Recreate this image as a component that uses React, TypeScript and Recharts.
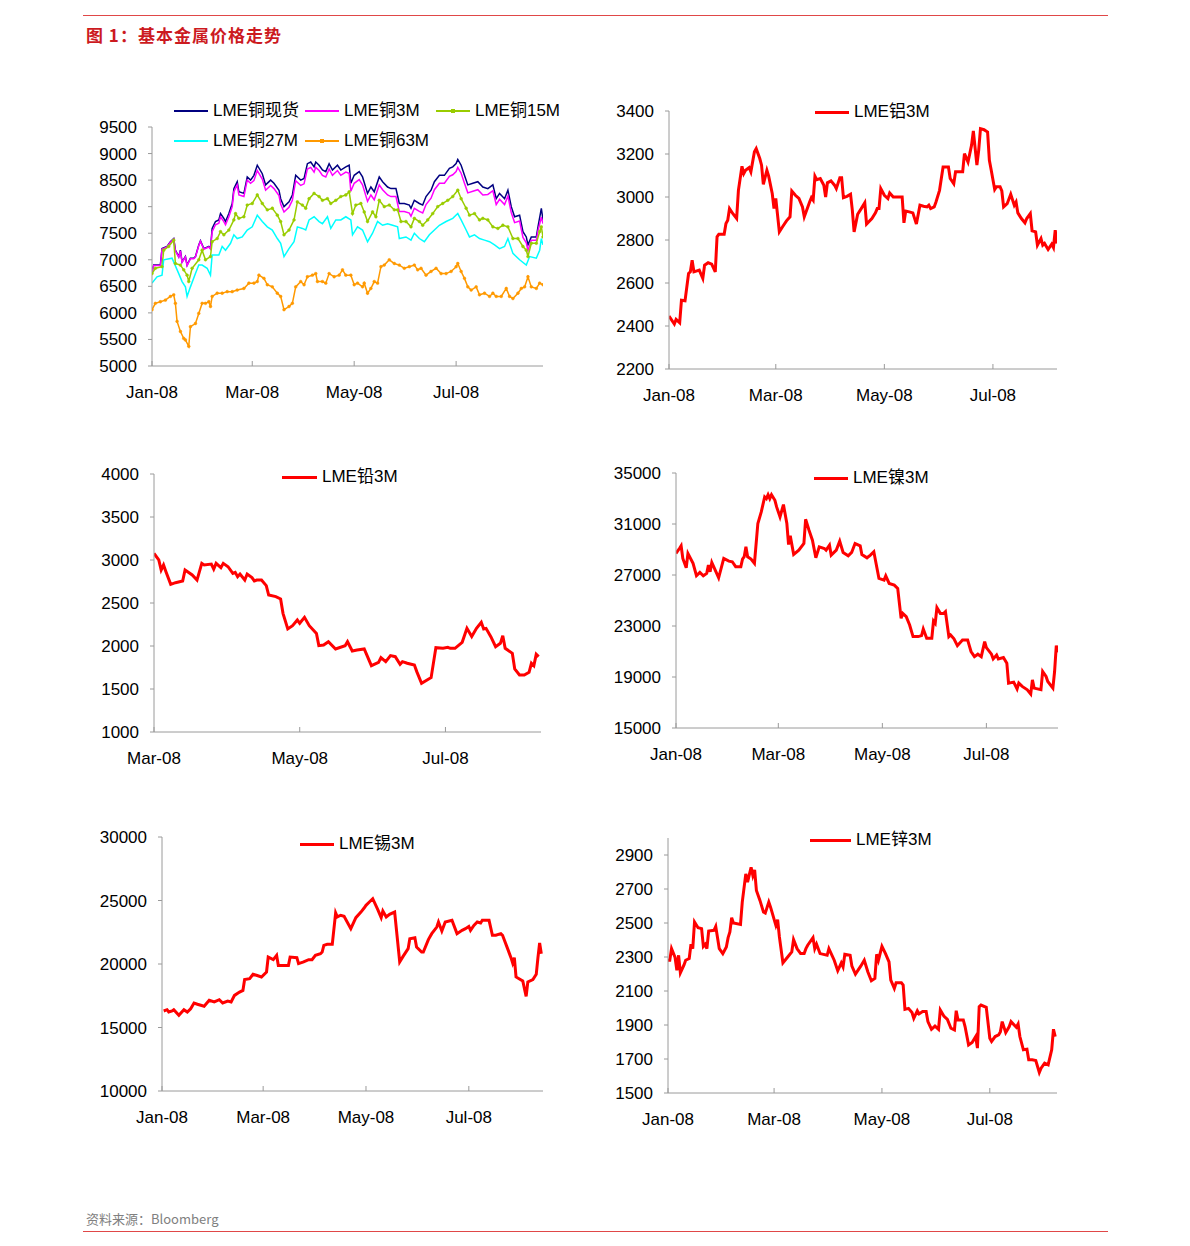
import React from 'react';
import { LineChart, Line, XAxis, YAxis } from 'recharts';

const FONT = '"Liberation Sans", Arial, "Noto Sans CJK SC", sans-serif';
const AXIS = '#9a9a9a';
const RED = '#FF0000';

// month ticks as day-of-year (2008)
const MONTH_DAYS = [0, 60, 121, 182];
const MONTH_LABELS = ['Jan-08', 'Mar-08', 'May-08', 'Jul-08'];

// ---- copper (LME) ----
const cuDays = [
  0, 1, 3, 5, 6, 9, 11, 13, 14, 16, 17, 18, 20, 21, 23, 25, 26, 28, 29, 31,
  34, 35, 36, 38, 40, 41, 43, 44, 46, 48, 49, 51, 52, 55, 57, 59, 61, 63, 66, 68,
  71, 73, 76, 77, 79, 82, 84, 86, 89, 91, 93, 95, 97, 98, 100, 102, 104, 106, 108, 111,
  113, 116, 118, 119, 121, 124, 126, 129, 131, 133, 136, 138, 141, 143, 146, 148, 151, 154, 155, 157,
  160, 162, 164, 167, 169, 172, 175, 178, 180, 182, 183, 185, 187, 189, 192, 195, 198, 201, 204, 206,
  208, 211, 213, 215, 217, 220, 222, 224, 225, 227, 230, 231, 233, 234,
];
const cuSpot = [
  6780, 6900, 6900, 6900, 7210, 7250, 7340, 7400, 7180, 7060, 7180, 6960, 7060, 6900, 7030, 7030, 7060, 7280, 7360, 7210,
  7250, 7210, 7590, 7720, 7750, 7870, 7780, 7720, 7870, 8060, 8340, 8470, 8280, 8250, 8560, 8500, 8590, 8780, 8620, 8410,
  8500, 8440, 8310, 8150, 8000, 8090, 8220, 8590, 8500, 8530, 8810, 8840, 8750, 8840, 8780, 8690, 8660, 8810, 8690, 8780,
  8690, 8750, 8780, 8440, 8590, 8660, 8560, 8250, 8370, 8280, 8560, 8470, 8370, 8340, 8340, 8060, 8060, 8030, 7970, 8120,
  8060, 8030, 8190, 8310, 8470, 8590, 8590, 8720, 8750, 8810, 8890, 8780, 8590, 8410, 8440, 8470, 8370, 8340, 8410, 8150,
  8250, 8150, 8310, 8000, 7810, 7840, 7530, 7430, 7280, 7430, 7430, 7620, 7970, 7750,
];
const cu3M = [
  6770, 6890, 6890, 6890, 7200, 7240, 7330, 7390, 7170, 7050, 7170, 6950, 7050, 6890, 7020, 7020, 7050, 7270, 7350, 7200,
  7240, 7200, 7530, 7660, 7690, 7810, 7720, 7660, 7810, 8000, 8280, 8410, 8220, 8190, 8500, 8440, 8490, 8680, 8520, 8310,
  8400, 8340, 8210, 8050, 7900, 7990, 8120, 8490, 8400, 8430, 8710, 8740, 8650, 8740, 8680, 8590, 8560, 8710, 8590, 8680,
  8590, 8650, 8630, 8290, 8440, 8510, 8410, 8100, 8220, 8130, 8410, 8320, 8220, 8190, 8190, 7910, 7910, 7880, 7820, 7970,
  7910, 7880, 8040, 8160, 8320, 8440, 8440, 8570, 8600, 8660, 8740, 8630, 8440, 8260, 8290, 8320, 8220, 8230, 8300, 8040,
  8140, 8040, 8200, 7890, 7700, 7730, 7420, 7320, 7170, 7370, 7370, 7550, 7800, 7680,
];
const cu15MDays = [
  0, 2, 6, 7, 10, 13, 14, 17, 19, 21, 22, 24, 28, 30, 32, 35, 36, 39, 41, 43,
  46, 49, 50, 52, 55, 57, 60, 63, 66, 69, 72, 75, 77, 79, 82, 85, 87, 90, 92, 94,
  97, 100, 102, 105, 107, 110, 113, 116, 118, 120, 122, 125, 127, 129, 132, 134, 136, 139, 142, 145,
  147, 149, 152, 155, 157, 160, 162, 165, 168, 171, 174, 177, 180, 183, 185, 188, 190, 193, 196, 198,
  201, 204, 207, 210, 213, 216, 219, 222, 224, 225, 227, 230, 232, 233, 234,
];
const cu15M = [
  6740, 6840, 6870, 7180, 7250, 7370, 6930, 6900, 6810, 6710, 6590, 6840, 7000, 7180, 7000, 7060, 7340, 7400, 7530, 7470,
  7560, 7750, 7870, 7780, 7810, 8030, 8060, 8220, 8060, 7940, 7970, 7840, 7720, 7470, 7560, 7750, 8090, 8030, 7970, 8150,
  8250, 8190, 8120, 8150, 8060, 8120, 8190, 8220, 8280, 7870, 8030, 8060, 7900, 7720, 7900, 7810, 8120, 8000, 8030, 7940,
  7940, 7720, 7720, 7620, 7780, 7720, 7650, 7750, 7870, 8000, 8060, 8120, 8190, 8310, 8150, 7970, 7840, 7870, 7750, 7780,
  7750, 7620, 7590, 7650, 7620, 7400, 7400, 7250, 7180, 7060, 7310, 7310, 7530, 7620, 7430,
];
const cu27MDays = [
  0, 3, 6, 7, 12, 16, 18, 20, 21, 23, 26, 28, 30, 33, 35, 36, 40, 42, 44, 47,
  49, 51, 54, 57, 60, 63, 66, 69, 72, 75, 77, 79, 82, 85, 87, 90, 92, 94, 97, 100,
  102, 105, 107, 110, 113, 116, 119, 120, 123, 126, 129, 132, 135, 138, 141, 144, 147, 148, 152, 155,
  157, 160, 163, 166, 169, 172, 176, 180, 183, 185, 188, 190, 193, 196, 199, 202, 205, 208, 211, 213,
  216, 220, 224, 226, 230, 232, 233, 234,
];
const cu27M = [
  6560, 6680, 6710, 7000, 7030, 6740, 6590, 6490, 6310, 6490, 6740, 6900, 6900, 6840, 6710, 7090, 7090, 7250, 7180, 7310,
  7470, 7400, 7430, 7560, 7620, 7840, 7720, 7620, 7560, 7400, 7310, 7060, 7210, 7340, 7620, 7590, 7560, 7750, 7810, 7720,
  7680, 7810, 7590, 7750, 7750, 7810, 7750, 7470, 7620, 7560, 7340, 7500, 7720, 7650, 7680, 7650, 7620, 7400, 7430, 7370,
  7500, 7400, 7340, 7470, 7560, 7650, 7720, 7780, 7870, 7750, 7560, 7430, 7470, 7400, 7370, 7340, 7280, 7210, 7250, 7400,
  7120, 7000, 6900, 7060, 7030, 7180, 7400, 7280,
];
const cu63MDays = [
  0, 2, 5, 8, 11, 13, 14, 15, 17, 19, 20, 22, 23, 26, 28, 30, 32, 34, 35, 36,
  39, 42, 45, 48, 51, 55, 58, 61, 63, 64, 67, 69, 72, 75, 77, 79, 82, 84, 86, 89,
  91, 93, 96, 98, 99, 102, 104, 106, 109, 112, 114, 116, 119, 121, 123, 126, 127, 129, 131, 133,
  135, 137, 139, 142, 145, 148, 151, 154, 157, 159, 161, 164, 167, 170, 173, 176, 179, 182, 183, 185,
  187, 189, 191, 194, 196, 199, 202, 204, 206, 209, 212, 214, 216, 219, 221, 223, 225, 227, 230, 232,
  234,
];
const cu63M = [
  6060, 6180, 6210, 6240, 6310, 6340, 6180, 5840, 5650, 5520, 5490, 5370, 5740, 5800, 5990, 6180, 6180, 6210, 6120, 6310,
  6370, 6370, 6400, 6400, 6430, 6460, 6560, 6560, 6590, 6710, 6650, 6530, 6490, 6370, 6310, 6060, 6120, 6180, 6490, 6590,
  6530, 6680, 6710, 6740, 6590, 6590, 6560, 6740, 6680, 6710, 6810, 6710, 6710, 6530, 6560, 6490, 6560, 6370, 6460, 6590,
  6560, 6870, 6900, 7000, 6930, 6900, 6840, 6870, 6900, 6810, 6840, 6710, 6780, 6840, 6740, 6740, 6780, 6870, 6930, 6780,
  6650, 6490, 6430, 6490, 6340, 6370, 6310, 6370, 6310, 6310, 6460, 6310, 6270, 6370, 6460, 6490, 6680, 6490, 6460, 6560,
  6530,
];

// ---- aluminium ----
const alDays = [
  0, 3, 4, 6, 7, 9, 11, 12, 13, 14, 17, 19, 20, 22, 24, 26, 27, 28, 31, 32,
  33, 34, 36, 38, 39, 41, 42, 43, 45, 46, 48, 49, 51, 52, 53, 55, 56, 58, 59, 60,
  62, 64, 66, 68, 69, 71, 73, 75, 76, 78, 79, 80, 81, 82, 83, 85, 87, 88, 89, 91,
  93, 94, 96, 97, 98, 100, 102, 103, 104, 106, 108, 110, 111, 114, 116, 117, 118, 119, 121, 123,
  124, 126, 128, 131, 132, 133, 135, 137, 139, 141, 143, 145, 146, 147, 149, 150, 152, 153, 154, 157,
  158, 160, 161, 164, 165, 166, 168, 170, 171, 173, 174, 175, 177, 179, 180, 181, 183, 184, 186, 187,
  188, 190, 192, 194, 195, 196, 198, 200, 201, 203, 204, 206, 207, 209, 210, 211, 213, 215, 216, 217,
  218,
];
const al3M = [
  2446, 2409, 2431, 2415, 2520, 2517, 2644, 2652, 2706, 2652, 2660, 2621, 2683, 2694, 2688, 2652, 2815, 2827, 2827, 2877,
  2892, 2946, 2921, 2900, 3031, 3143, 3109, 3124, 3137, 3117, 3210, 3225, 3179, 3148, 3059, 3124, 3097, 3016, 2946, 2993,
  2838, 2864, 2889, 2908, 3028, 3008, 2993, 2954, 2908, 2954, 2977, 2997, 2985, 3097, 3081, 3086, 3055, 3000, 3066, 3075,
  3055, 3039, 3090, 3090, 2997, 3003, 3013, 2939, 2838, 2920, 2946, 2973, 2874, 2900, 2926, 2946, 2946, 3039, 3008, 2993,
  3019, 3000, 3000, 3000, 2880, 2935, 2931, 2926, 2874, 2962, 2957, 2954, 2962, 2946, 2954, 2977, 3031, 3086, 3140, 3140,
  3086, 3062, 3117, 3117, 3117, 3202, 3163, 3241, 3307, 3148, 3217, 3318, 3313, 3302, 3171, 3127, 3035, 3048, 3048, 3028,
  2954, 2969, 3013, 2962, 2977, 2926, 2900, 2880, 2900, 2923, 2843, 2838, 2776, 2807, 2776, 2784, 2756, 2781, 2765, 2846,
  2784,
];

// ---- lead ----
const pbDays = [
  60, 62, 63, 64, 65, 67, 69, 72, 73, 76, 78, 80, 81, 84, 85, 86, 88, 89, 91, 93,
  94, 95, 96, 98, 99, 101, 102, 103, 105, 107, 108, 111, 113, 114, 116, 118, 120, 121, 123, 125,
  128, 129, 131, 133, 136, 140, 141, 143, 145, 148, 151, 154, 155, 157, 159, 161, 163, 164, 166, 169,
  170, 172, 175, 176, 178, 181, 183, 184, 186, 189, 191, 193, 195, 197, 198, 199, 201, 203, 205, 206,
  207, 210, 211, 213, 215, 217, 218, 219, 220, 221,
];
const pb3M = [
  3078, 3000, 2884, 2942, 2864, 2717, 2736, 2756, 2884, 2826, 2767, 2961, 2942, 2953, 2895, 2961, 2911, 2961, 2922, 2845,
  2857, 2806, 2837, 2767, 2837, 2795, 2756, 2767, 2767, 2702, 2593, 2574, 2547, 2380, 2198, 2236, 2302, 2264, 2333, 2236,
  2147, 2004, 2012, 2050, 1965, 2004, 2050, 1942, 1953, 1965, 1771, 1810, 1864, 1818, 1888, 1876, 1787, 1818, 1799, 1779,
  1702, 1566, 1617, 1632, 1981, 1973, 1984, 1973, 1973, 2043, 2205, 2109, 2205, 2275, 2198, 2205, 2109, 1992, 2031, 2120,
  1973, 1915, 1733, 1663, 1663, 1694, 1799, 1771, 1903, 1876,
];

// ---- nickel ----
const niDays = [
  0, 2, 3, 4, 6, 7, 10, 12, 14, 16, 18, 19, 20, 21, 23, 25, 28, 31, 33, 35,
  38, 39, 40, 41, 42, 44, 46, 48, 50, 52, 53, 54, 55, 56, 58, 59, 61, 63, 65, 66,
  67, 69, 72, 75, 76, 78, 80, 82, 84, 87, 88, 90, 91, 94, 96, 98, 101, 103, 105, 108,
  109, 112, 114, 116, 119, 122, 123, 125, 128, 130, 132, 133, 135, 137, 139, 142, 144, 145, 147, 150,
  151, 152, 153, 155, 157, 158, 160, 161, 163, 165, 168, 171, 173, 175, 177, 179, 181, 182, 185, 186,
  188, 189, 192, 194, 195, 198, 200, 201, 203, 206, 208, 209, 210, 214, 215, 217, 218, 221, 222, 223,
  224,
];
const ni3M = [
  28690, 29080, 29290, 28300, 27570, 28690, 27910, 26940, 27200, 26940, 27120, 27780, 27250, 27980, 27380, 26780, 28300, 28090, 28040, 27650,
  27650, 28250, 28430, 29210, 28430, 28250, 27910, 31040, 31950, 33120, 32990, 33300, 32990, 33300, 32860, 32340, 31560, 32520, 31040, 29390,
  30070, 28610, 28950, 29470, 31370, 30510, 29730, 28350, 29210, 29080, 28950, 29340, 28560, 28950, 29650, 28770, 28510, 28770, 29470, 29290,
  28610, 28350, 28560, 28820, 26730, 26600, 26940, 26340, 26210, 25950, 23600, 23990, 23740, 23080, 22170, 22170, 22250, 22770, 22040, 22040,
  23390, 23210, 24440, 23990, 23990, 24120, 22170, 22300, 21990, 21460, 21910, 21910, 21000, 20600, 20790, 20600, 21780, 21310, 20790, 20420,
  20730, 20420, 20530, 20080, 18520, 18600, 18070, 18520, 18260, 18000, 17660, 18780, 18130, 18000, 19430, 19040, 18650, 18130, 19430, 21460,
  20940,
];

// ---- tin ----
const snDays = [
  1, 3, 4, 6, 7, 10, 13, 15, 17, 19, 21, 25, 28, 31, 34, 36, 39, 41, 43, 46,
  48, 49, 52, 54, 56, 59, 62, 63, 66, 68, 69, 73, 75, 76, 80, 81, 84, 87, 89, 91,
  94, 95, 96, 98, 101, 103, 104, 106, 108, 112, 115, 118, 120, 121, 123, 125, 128, 130, 131, 133,
  135, 138, 141, 143, 146, 147, 150, 151, 154, 155, 158, 160, 163, 164, 166, 168, 172, 175, 178, 180,
  182, 183, 185, 187, 189, 190, 194, 196, 198, 201, 202, 205, 207, 208, 209, 210, 214, 216, 217, 220,
  222, 223, 224, 225,
];
const sn3M = [
  16300, 16400, 16220, 16300, 16400, 15960, 16400, 16220, 16480, 16930, 16830, 16670, 17140, 17010, 17190, 16930, 17080, 17010, 17530, 17790,
  17920, 18770, 18840, 19190, 19110, 18980, 19370, 20550, 20340, 20680, 19890, 19890, 19890, 20550, 20500, 20030, 20160, 20340, 20340, 20680,
  20810, 20940, 21470, 21550, 21550, 24020, 23710, 23840, 23760, 22780, 23650, 24090, 24430, 24620, 24880, 25140, 24280, 23650, 24170, 23700,
  23910, 24090, 20160, 20600, 21210, 21990, 22070, 21340, 20940, 20940, 21920, 22390, 22910, 23310, 22600, 23310, 23440, 22390, 22650, 22780,
  22960, 22650, 23040, 23310, 23230, 23440, 23440, 22260, 22260, 22390, 22260, 21210, 20500, 20080, 20500, 18980, 18660, 17450, 18590, 18770,
  19190, 20500, 21650, 20810,
];

// ---- zinc ----
const znDays = [
  0, 1, 2, 4, 5, 6, 7, 9, 10, 12, 13, 14, 15, 17, 19, 20, 21, 22, 23, 26,
  27, 29, 31, 33, 34, 35, 36, 37, 41, 42, 44, 45, 46, 47, 48, 49, 50, 52, 54, 55,
  57, 58, 61, 62, 63, 65, 67, 70, 71, 73, 75, 77, 78, 79, 82, 83, 84, 86, 90, 91,
  94, 96, 98, 99, 100, 103, 104, 106, 109, 111, 113, 115, 117, 118, 119, 121, 123, 125, 126, 128,
  129, 132, 133, 134, 136, 138, 139, 141, 142, 144, 146, 147, 149, 151, 153, 154, 156, 158, 160, 162,
  163, 164, 167, 168, 170, 172, 174, 175, 176, 177, 180, 182, 183, 185, 187, 188, 189, 191, 193, 194,
  197, 198, 199, 201, 203, 204, 206, 208, 210, 211, 213, 215, 217, 218, 219,
];
const zn3M = [
  2281, 2281, 2349, 2297, 2222, 2310, 2207, 2252, 2281, 2291, 2375, 2349, 2506, 2472, 2467, 2363, 2375, 2349, 2453, 2457,
  2480, 2349, 2320, 2359, 2414, 2447, 2531, 2500, 2492, 2623, 2789, 2740, 2785, 2828, 2779, 2812, 2691, 2633, 2564, 2558,
  2623, 2593, 2486, 2519, 2418, 2265, 2291, 2330, 2402, 2349, 2320, 2320, 2349, 2369, 2414, 2349, 2375, 2320, 2310, 2349,
  2281, 2219, 2265, 2242, 2316, 2310, 2246, 2199, 2246, 2281, 2213, 2160, 2174, 2316, 2281, 2363, 2320, 2271, 2164, 2115,
  2148, 2148, 2135, 1992, 1998, 1973, 1939, 1984, 1965, 1979, 1979, 1920, 1875, 1894, 1875, 1988, 1953, 1933, 1881, 1871,
  1984, 1930, 1930, 1891, 1783, 1797, 1832, 1764, 2008, 2017, 2004, 1822, 1803, 1832, 1842, 1861, 1920, 1855, 1891, 1920,
  1887, 1906, 1832, 1754, 1758, 1695, 1695, 1691, 1621, 1646, 1676, 1666, 1754, 1875, 1832,
];

type Series = { name: string; color: string; width: number; days: number[]; values: number[]; dots?: boolean };
type Rect = { x0: number; x1: number; y0: number; y1: number };

const toPoints = (days: number[], values: number[]) => days.map((d, i) => ({ day: d, v: values[i] }));

const MonthTick = (props: any) => {
  const { x, y, payload } = props;
  const idx = MONTH_DAYS.indexOf(payload.value);
  return (
    <g>
      <line x1={x} x2={x} y1={y} y2={y - 5} stroke={AXIS} />
      <text x={x} y={y + 32} textAnchor="middle" fontSize={17} fill="#000" fontFamily={FONT}>
        {MONTH_LABELS[idx]}
      </text>
    </g>
  );
};

const Y_AXIS_W = 70;

function Panel({ rect, xDomain, xTicks, yDomain, yTicks, series }: {
  rect: Rect; xDomain: [number, number]; xTicks: number[]; yDomain: [number, number]; yTicks: number[]; series: Series[];
}) {
  const w = rect.x1 - rect.x0 + Y_AXIS_W + 10;
  const h = rect.y1 - rect.y0 + 10 + 40;
  return (
    <div style={{ position: 'absolute', left: rect.x0 - Y_AXIS_W, top: rect.y0 - 10 }}>
      <LineChart width={w} height={h} margin={{ top: 10, right: 10, bottom: 0, left: 0 }}>
        <XAxis
          type="number"
          dataKey="day"
          domain={xDomain}
          ticks={xTicks}
          allowDataOverflow
          interval={0}
          height={40}
          tickSize={0}
          tickMargin={0}
          tickLine={false}
          axisLine={{ stroke: AXIS }}
          tick={<MonthTick />}
        />
        <YAxis
          type="number"
          domain={yDomain}
          ticks={yTicks}
          allowDataOverflow
          interval={0}
          width={Y_AXIS_W}
          tickSize={4}
          tickMargin={11}
          axisLine={{ stroke: AXIS }}
          tickLine={{ stroke: AXIS }}
          tick={{ fontSize: 17, fill: '#000', fontFamily: FONT }}
        />
        {series.map((s) => (
          <Line
            key={s.name}
            data={toPoints(s.days, s.values)}
            dataKey="v"
            name={s.name}
            type="linear"
            stroke={s.color}
            strokeWidth={s.width}
            dot={s.dots ? { r: 1.4, fill: s.color, stroke: s.color, strokeWidth: 0.5 } : false}
            activeDot={false}
            isAnimationActive={false}
          />
        ))}
      </LineChart>
    </div>
  );
}

function LegendItem({ s, x, y, segW }: { s: Series; x: number; y: number; segW: number }) {
  return (
    <div style={{ position: 'absolute', left: x, top: y - 12, height: 24, display: 'flex', alignItems: 'center', whiteSpace: 'nowrap' }}>
      <div style={{ position: 'relative', width: segW, height: s.width, background: s.color }}>
        {s.dots && (
          <div style={{ position: 'absolute', left: segW / 2 - 2, top: s.width / 2 - 2, width: 4, height: 4, background: s.color }} />
        )}
      </div>
      <span style={{ marginLeft: 5, fontSize: 17, color: '#000', fontFamily: FONT, lineHeight: '24px' }}>{s.name}</span>
    </div>
  );
}

const copperSeries: Series[] = [
  { name: 'LME铜现货', color: '#000080', width: 1.5, days: cuDays, values: cuSpot },
  { name: 'LME铜3M', color: '#FF00FF', width: 1.5, days: cuDays, values: cu3M },
  { name: 'LME铜15M', color: '#99CC00', width: 1.5, days: cu15MDays, values: cu15M, dots: true },
  { name: 'LME铜27M', color: '#00FFFF', width: 1.5, days: cu27MDays, values: cu27M },
  { name: 'LME铜63M', color: '#FF9900', width: 1.5, days: cu63MDays, values: cu63M, dots: true },
];
const alSeries: Series[] = [{ name: 'LME铝3M', color: RED, width: 3, days: alDays, values: al3M }];
const pbSeries: Series[] = [{ name: 'LME铅3M', color: RED, width: 3, days: pbDays, values: pb3M }];
const niSeries: Series[] = [{ name: 'LME镍3M', color: RED, width: 3, days: niDays, values: ni3M }];
const snSeries: Series[] = [{ name: 'LME锡3M', color: RED, width: 3, days: snDays, values: sn3M }];
const znSeries: Series[] = [{ name: 'LME锌3M', color: RED, width: 3, days: znDays, values: zn3M }];

const range = (a: number, b: number, step: number) => {
  const out: number[] = [];
  for (let v = a; v <= b; v += step) out.push(v);
  return out;
};

export default function App() {
  return (
    <div style={{ position: 'absolute', left: 0, top: 0, width: 1190, height: 1246, background: '#fff', fontFamily: FONT }}>
      <div style={{ position: 'absolute', left: 83, top: 15, width: 1025, height: 1, background: '#E04848' }} />
      <div style={{ position: 'absolute', left: 86, top: 24, fontSize: 17, letterSpacing: 1, fontWeight: 'bold', color: '#CC1A1F', fontFamily: '"Noto Sans CJK SC", sans-serif', lineHeight: '22px', whiteSpace: 'pre' }}>
        图 1：基本金属价格走势
      </div>

      <Panel rect={{ x0: 152, x1: 543, y0: 127, y1: 366 }} xDomain={[0, 234]} xTicks={MONTH_DAYS}
        yDomain={[5000, 9500]} yTicks={range(5000, 9500, 500)} series={copperSeries} />
      <Panel rect={{ x0: 669, x1: 1057, y0: 111, y1: 369 }} xDomain={[0, 218]} xTicks={MONTH_DAYS}
        yDomain={[2200, 3400]} yTicks={range(2200, 3400, 200)} series={alSeries} />
      <Panel rect={{ x0: 154, x1: 541, y0: 474, y1: 732 }} xDomain={[60, 222]} xTicks={[60, 121, 182]}
        yDomain={[1000, 4000]} yTicks={range(1000, 4000, 500)} series={pbSeries} />
      <Panel rect={{ x0: 676, x1: 1058, y0: 473, y1: 728 }} xDomain={[0, 224]} xTicks={MONTH_DAYS}
        yDomain={[15000, 35000]} yTicks={range(15000, 35000, 4000)} series={niSeries} />
      <Panel rect={{ x0: 162, x1: 543, y0: 837, y1: 1091 }} xDomain={[0, 226]} xTicks={MONTH_DAYS}
        yDomain={[10000, 30000]} yTicks={range(10000, 30000, 5000)} series={snSeries} />
      <Panel rect={{ x0: 668, x1: 1057, y0: 838, y1: 1093 }} xDomain={[0, 220]} xTicks={MONTH_DAYS}
        yDomain={[1500, 3000]} yTicks={range(1500, 2900, 200)} series={znSeries} />

      {/* legends */}
      <LegendItem s={copperSeries[0]} x={174} y={111} segW={34} />
      <LegendItem s={copperSeries[1]} x={305} y={111} segW={34} />
      <LegendItem s={copperSeries[2]} x={436} y={111} segW={34} />
      <LegendItem s={copperSeries[3]} x={174} y={141} segW={34} />
      <LegendItem s={copperSeries[4]} x={305} y={141} segW={34} />
      <LegendItem s={alSeries[0]} x={815} y={112} segW={34} />
      <LegendItem s={pbSeries[0]} x={282} y={477} segW={35} />
      <LegendItem s={niSeries[0]} x={814} y={478} segW={34} />
      <LegendItem s={snSeries[0]} x={300} y={844} segW={34} />
      <LegendItem s={znSeries[0]} x={810} y={840} segW={41} />

      <div style={{ position: 'absolute', left: 86, top: 1210, fontSize: 13, color: '#808080', fontFamily: '"Noto Sans CJK SC", "Liberation Sans", sans-serif', lineHeight: '18px' }}>
        资料来源：Bloomberg
      </div>
      <div style={{ position: 'absolute', left: 83, top: 1231, width: 1025, height: 1, background: '#E04848' }} />
    </div>
  );
}
